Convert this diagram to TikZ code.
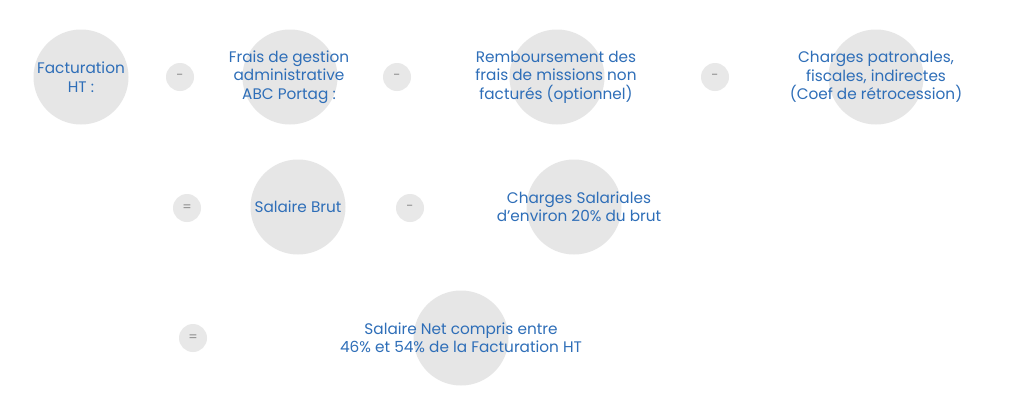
\documentclass[tikz,border=0pt]{standalone}
\usepackage{fontspec}
\setmainfont{Poppins}
\definecolor{txtblue}{RGB}{46,110,184}
\definecolor{bigfill}{RGB}{230,230,230}
\definecolor{opfill}{RGB}{232,232,232}
\definecolor{opsym}{RGB}{140,140,140}
\begin{document}
\begin{tikzpicture}[x=1pt,y=-1pt,
  bigcirc/.style={circle,fill=bigfill,minimum size=95pt,inner sep=0pt},
  opcirc/.style={circle,fill=opfill,minimum size=28pt,inner sep=0pt,text=opsym,font=\fontsize{13}{14}\selectfont},
  lbl/.style={text=txtblue,align=center,font=\fontsize{15.3}{18.5}\selectfont,inner sep=0pt}]
\useasboundingbox[fill=white] (0,0) rectangle (1024,410);
% row 1
\node[bigcirc] (c1) at (81,77) {};
\node[lbl] (t1) at (81,77) {Facturation\\HT :};
\node[opcirc] (o1) at (180,77) {-};
\node[bigcirc] (c2) at (290,77) {};
\node[lbl] (t2) at (289,77) {Frais de gestion\\administrative\\ABC Portag :};
\node[opcirc] (o2) at (397,77) {-};
\node[bigcirc] (c3) at (557,77) {};
\node[lbl] (t3) at (556,77) {Remboursement des\\frais de missions non\\facturés (optionnel)};
\node[opcirc] (o3) at (715,77) {-};
\node[bigcirc] (c4) at (876,77) {};
\node[lbl] (t4) at (876,77) {Charges patronales,\\fiscales, indirectes\\(Coef de rétrocession)};
% row 2
\node[opcirc] (o4) at (187,208) {=};
\node[bigcirc] (c5) at (298,207) {};
\node[lbl] (t5) at (298,207) {Salaire Brut};
\node[opcirc] (o5) at (410,208) {-};
\node[bigcirc] (c6) at (574,207) {};
\node[lbl] (t6) at (579,207) {Charges Salariales\\d’environ 20\% du brut};
% row 3
\node[opcirc] (o6) at (193,338) {=};
\node[bigcirc] (c7) at (461,338) {};
\node[lbl] (t7) at (461,338) {Salaire Net compris entre\\46\% et 54\% de la Facturation HT};
\end{tikzpicture}
\end{document}
